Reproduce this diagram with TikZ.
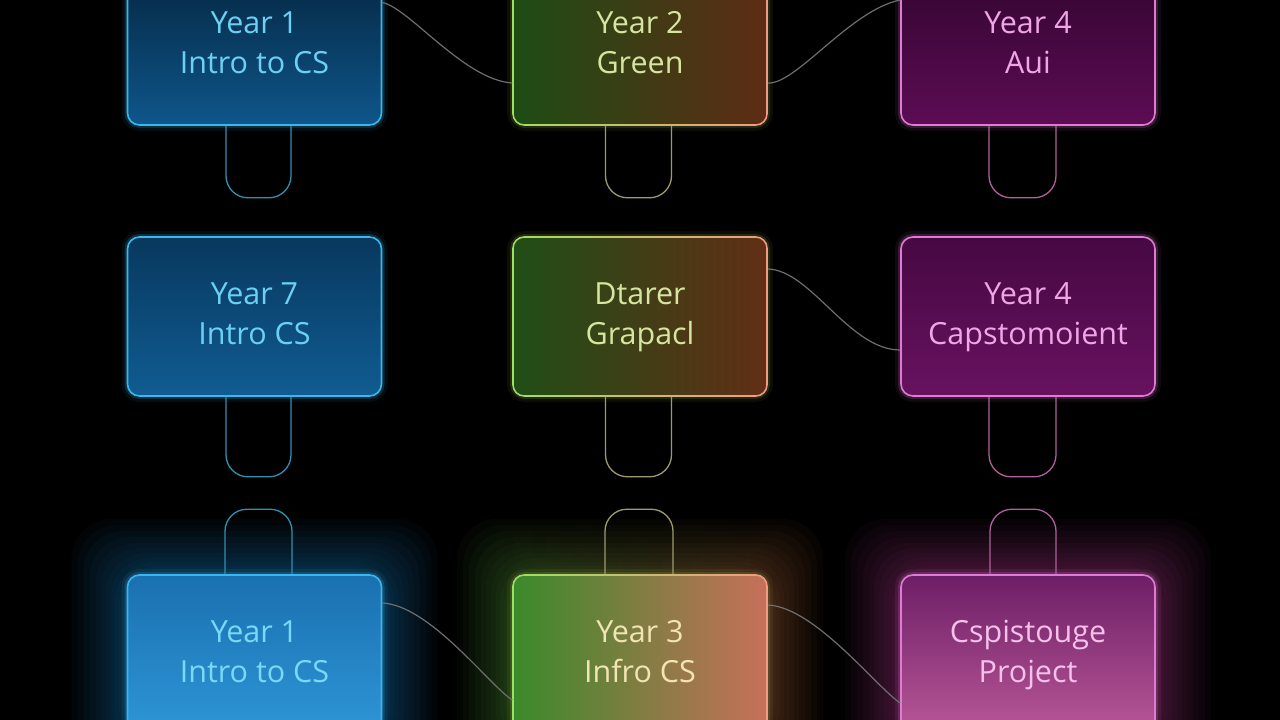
\documentclass[tikz,border=0pt]{standalone}
\usepackage{fontspec}
\setmainfont{Open Sans}
\usetikzlibrary{calc}
\newcommand{\boxtext}[3][3pt]{\raisebox{#1}{\begin{tabular}{@{}c@{}}#2\\#3\end{tabular}}}
\definecolor{bBord}{HTML}{3CB6EE}
\definecolor{bText}{HTML}{6CD0F4}
\definecolor{bTab}{HTML}{2F90B2}
\definecolor{gBordL}{HTML}{9EE060}
\definecolor{gBordR}{HTML}{F29A84}
\definecolor{gGlow}{HTML}{9AA850}
\definecolor{gText}{HTML}{D6E6A2}
\definecolor{gTab}{HTML}{9C9A70}
\definecolor{mBord}{HTML}{E07AD4}
\definecolor{mText}{HTML}{F0A6E6}
\definecolor{mTab}{HTML}{B0609A}
\definecolor{linkgray}{HTML}{6E6E6E}
\definecolor{hBlue}{HTML}{1E8AD0}
\definecolor{hGreen}{HTML}{5AB040}
\definecolor{hOrange}{HTML}{C8704A}
\definecolor{hPink}{HTML}{C0409A}
\begin{document}
\begin{tikzpicture}[x=1pt,y=-1pt,
  box/.style={rectangle, rounded corners=12pt, minimum width=254pt, minimum height=159pt,
    inner sep=0pt, align=center, font=\fontsize{30.5}{40}\selectfont, line width=1.6pt},
  glowing/.style={preaction={draw=#1, line width=12pt, draw opacity=0.08},
    preaction={draw=#1, line width=6pt, draw opacity=0.18}},
  link/.style={draw=linkgray, line width=1.2pt},
  tabline/.style={line width=1.3pt, rounded corners=22pt},
  halo/.style={fill=#1, opacity=0.04, rounded corners=40pt}
]
\fill[black] (0,0) rectangle (1280,720);
\useasboundingbox (0,0) rectangle (1280,720);
\clip (0,0) rectangle (1280,720);

% soft haze around the bottom row
\foreach \d in {56,50,44,38,32,27,22,17,13,9,6,3}{
  \fill[halo=hBlue] (254.5-127-\d,575-\d) rectangle (254.5+127+\d,734+\d);
  \path[opacity=0.04, rounded corners=40pt, left color=hGreen, right color=hOrange]
    (640-127-\d,575-\d) rectangle (640+127+\d,734+\d);
  \fill[halo=hPink] (1028-127-\d,575-\d) rectangle (1028+127+\d,734+\d);
}

% top row
\node[box, glowing=bBord, draw=bBord, top color={rgb,255:red,5;green,37;blue,64},
  bottom color={rgb,255:red,14;green,86;blue,138}, text=bText] (b11) at (254.5,45.5) {\boxtext[5pt]{Year 1}{Intro to CS}};
\node[box, glowing=gGlow, left color={rgb,255:red,30;green,76;blue,20}, middle color={rgb,255:red,70;green,58;blue,20},
  right color={rgb,255:red,94;green,44;blue,20}, text=gText] (b12) at (640,45.5) {\boxtext[5pt]{Year 2}{Green}};
\node[box, glowing=mBord, draw=mBord, top color={rgb,255:red,50;green,5;blue,47},
  bottom color={rgb,255:red,92;green,12;blue,84}, text=mText] (b13) at (1028,45.5) {\boxtext[5pt]{Year 4}{Aui}};

% middle row
\node[box, glowing=bBord, draw=bBord, top color={rgb,255:red,8;green,56;blue,94},
  bottom color={rgb,255:red,16;green,92;blue,146}, text=bText] (b21) at (254.5,316.5) {\boxtext[1pt]{Year 7}{Intro CS}};
\node[box, glowing=gGlow, left color={rgb,255:red,32;green,78;blue,22}, middle color={rgb,255:red,72;green,60;blue,22},
  right color={rgb,255:red,98;green,46;blue,22}, text=gText] (b22) at (640,316.5) {\boxtext[1pt]{Dtarer}{Grapacl}};
\node[box, glowing=mBord, draw=mBord, top color={rgb,255:red,70;green,8;blue,66},
  bottom color={rgb,255:red,104;green,18;blue,96}, text=mText] (b23) at (1028,316.5) {\boxtext[1pt]{Year 4}{Capstomoient}};

% bottom row
\node[box, glowing=bBord, draw=bBord, top color={rgb,255:red,26;green,112;blue,176},
  bottom color={rgb,255:red,46;green,150;blue,214}, text={rgb,255:red,122;green,216;blue,248}] (b31) at (254.5,654.5) {\boxtext[4pt]{Year 1}{Intro to CS}};
\node[box, glowing=gGlow, left color={rgb,255:red,58;green,138;blue,42}, middle color={rgb,255:red,160;green,112;blue,64},
  right color={rgb,255:red,200;green,112;blue,90}, text={rgb,255:red,242;green,228;blue,180}] (b32) at (640,654.5) {\boxtext[4pt]{Year 3}{Infro CS}};
\node[box, glowing=mBord, draw=mBord, top color={rgb,255:red,110;green,30;blue,102},
  bottom color={rgb,255:red,184;green,88;blue,152}, text={rgb,255:red,246;green,192;blue,236}] (b33) at (1028,654.5) {\boxtext[4pt]{Cspistouge}{Project}};

% gradient borders of the green/orange boxes
\foreach \n in {b12,b22,b32}{
  \path[even odd rule, left color=gBordL, right color=gBordR]
    [rounded corners=12pt] (\n.north west) rectangle (\n.south east)
    [rounded corners=10.4pt] ($(\n.north west)+(1.6,1.6)$) rectangle ($(\n.south east)+(-1.6,-1.6)$);
}

% tabs below the top and middle rows
\draw[tabline, draw=bTab] ($(b11.south)+(-28.5,0)$) -- ++(0,72) -- ++(65,0) -- ++(0,-72);
\draw[tabline, draw=gTab] ($(b12.south)+(-34.5,0)$) -- ++(0,72) -- ++(66,0) -- ++(0,-72);
\draw[tabline, draw=mTab] ($(b13.south)+(-39,0)$) -- ++(0,72) -- ++(67,0) -- ++(0,-72);
\draw[tabline, draw=bTab] ($(b21.south)+(-28.5,0)$) -- ++(0,80) -- ++(65,0) -- ++(0,-80);
\draw[tabline, draw=gTab] ($(b22.south)+(-34.5,0)$) -- ++(0,80) -- ++(66,0) -- ++(0,-80);
\draw[tabline, draw=mTab] ($(b23.south)+(-39,0)$) -- ++(0,80) -- ++(67,0) -- ++(0,-80);
% tabs above the bottom row
\draw[tabline, draw=bTab] ($(b31.north)+(-29.5,0)$) -- ++(0,-65) -- ++(67,0) -- ++(0,65);
\draw[tabline, draw=gTab] ($(b32.north)+(-35,0)$) -- ++(0,-65) -- ++(68,0) -- ++(0,65);
\draw[tabline, draw=mTab] ($(b33.north)+(-38,0)$) -- ++(0,-65) -- ++(66,0) -- ++(0,65);

% curved connectors
\draw[link] ($(b11.east)+(0,-43)$) .. controls +(27,5.5) and +(-48,-3) .. ($(b12.west)+(0,37.5)$);
\draw[link] ($(b12.east)+(0,37.5)$) .. controls +(28,2) and +(-50,10) .. ($(b13.west)+(0,-45.5)$);
\draw[link] ($(b22.east)+(0,-47.5)$) .. controls +(43,1) and +(-51,0) .. ($(b23.west)+(0,33.5)$);
\draw[link] ($(b31.east)+(0,-51.5)$) .. controls +(47,2) and +(-23,-15) .. ($(b32.west)+(0,45.5)$);
\draw[link] ($(b32.east)+(0,-49.5)$) .. controls +(47,2) and +(-23,-15) .. ($(b33.west)+(0,48.5)$);
\end{tikzpicture}
\end{document}
